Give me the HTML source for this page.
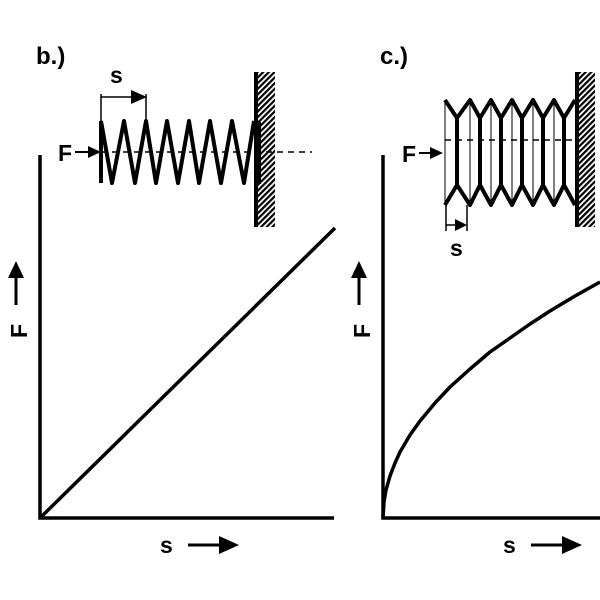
<!DOCTYPE html>
<html><head><style>html,body{margin:0;padding:0;background:#fff}svg{display:block}text{font-family:"Liberation Sans",sans-serif;font-weight:bold;fill:#000}</style></head>
<body>
<svg width="600" height="600" viewBox="0 0 600 600" xmlns="http://www.w3.org/2000/svg">
<defs>
<pattern id="h" width="4" height="4" patternUnits="userSpaceOnUse" patternTransform="rotate(45)">
<rect width="4" height="4" fill="#fff"/><rect width="2.2" height="4" fill="#000"/></pattern>
</defs>
<text x="36" y="64" font-size="24">b.)</text>
<text x="380" y="64" font-size="24">c.)</text>

<g stroke="#000" stroke-width="3.5" fill="none">
<path d="M40 155 V518 H334"/>
<path d="M40 518 L335 228"/>
<path d="M383 155 V518 H600"/>
</g>
<polyline fill="none" stroke="#000" stroke-width="3.5" stroke-linejoin="round" points="383,518 384,502 386,490 390,476 395,463 400,452 410,435 420,421 435,403 450,387 470,369 490,352 510,338 530,324 550,311 575,296 600,282"/>

<g>
<text x="0" y="0" font-size="23" transform="translate(27,338) rotate(-90)">F</text>
<path d="M16 305 V275" stroke="#000" stroke-width="3"/>
<polygon points="16,261 8,278 24,278"/>
<text x="0" y="0" font-size="23" transform="translate(370,338) rotate(-90)">F</text>
<path d="M359 305 V275" stroke="#000" stroke-width="3"/>
<polygon points="359,261 351,278 367,278"/>
<text x="160" y="553" font-size="23">s</text>
<path d="M188 545 H222" stroke="#000" stroke-width="3"/>
<polygon points="239,545 219,536 219,554"/>
<text x="503" y="553" font-size="23">s</text>
<path d="M531 545 H565" stroke="#000" stroke-width="3"/>
<polygon points="582,545 562,536 562,554"/>
</g>

<rect x="255" y="72" width="20" height="155" fill="url(#h)"/>
<rect x="254" y="122" width="7" height="62" fill="#000"/>
<rect x="254" y="72" width="4" height="155" fill="#000"/>
<path d="M101 152 H312" stroke="#000" stroke-width="1.5" stroke-dasharray="6,5"/>
<path d="M101 121 V183" stroke="#000" stroke-width="4"/>
<polyline fill="none" stroke="#000" stroke-width="4" stroke-linejoin="round" points="101,121 112,183 124,121 135,183 146,121 156,183 167,121 178,183 189,121 199,183 210,121 221,183 232,121 244,183 254,121"/>
<path d="M101 121 V94 M146 121 V94 M101 97 H134" stroke="#000" stroke-width="1.5"/>
<polygon points="147,97 131,90 131,104"/>
<text x="110" y="83" font-size="23">s</text>
<text x="58" y="161" font-size="23">F</text>
<path d="M75 152 H90" stroke="#000" stroke-width="2"/>
<polygon points="101,152 88,146 88,158"/>

<rect x="577" y="72" width="18" height="155" fill="url(#h)"/>
<rect x="575" y="72" width="4" height="155" fill="#000"/>
<g stroke="#000" stroke-width="1" fill="none">
<path d="M445 100 V205 M470 100 V205 M491 100 V205 M512 100 V205 M533 100 V205 M554 100 V205"/>
</g>
<path d="M445 140 H577" stroke="#000" stroke-width="1.5" stroke-dasharray="6,5"/>
<g fill="none" stroke="#000" stroke-width="4" stroke-linejoin="round">
<polyline points="445,100 457,118 470,100 480,118 491,100 501,118 512,100 522,118 533,100 543,118 554,100 564,118 575,100"/>
<polyline points="445,205 457,185 470,205 480,185 491,205 501,185 512,205 522,185 533,205 543,185 554,205 564,185 575,205"/>
<path d="M457 118 V185 M480 118 V185 M501 118 V185 M522 118 V185 M543 118 V185 M564 118 V185"/>
</g>
<path d="M446 205 V231 M467 205 V231 M446 225 H457" stroke="#000" stroke-width="1.5"/>
<polygon points="467,225 455,219 455,231"/>
<text x="450" y="256" font-size="23">s</text>
<text x="402" y="162" font-size="23">F</text>
<path d="M419 153 H432" stroke="#000" stroke-width="2"/>
<polygon points="443,153 430,147 430,159"/>
</svg>
</body></html>
